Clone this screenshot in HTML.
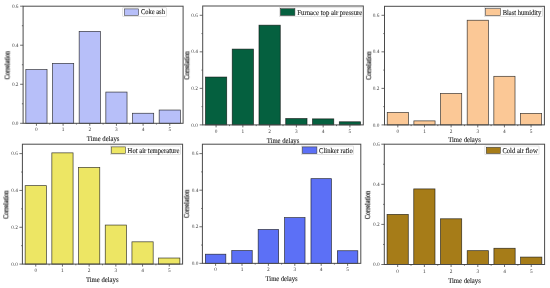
<!DOCTYPE html><html><head><meta charset="utf-8"><title>Correlation vs time delays</title><style>html,body{margin:0;padding:0;background:#fff}svg{display:block}text{text-rendering:geometricPrecision;font-family:"Liberation Serif","DejaVu Serif",serif;fill:#222;stroke:#222;stroke-width:0.12px}text.rt{stroke-width:0.25px}text.tk{fill:#3e3e3e;stroke:none}</style></head><body>
<svg width="550" height="288" viewBox="0 0 550 288">
<defs><filter id="bl" x="-10%" y="-50%" width="120%" height="200%"><feGaussianBlur stdDeviation="0.3"/></filter></defs>
<rect width="550" height="288" fill="#fff"/>
<g>
<rect x="25.83" y="69.63" width="21.20" height="53.67" fill="#b7bff9" stroke="#0c0c0c" stroke-width="0.7" stroke-opacity="0.8"/>
<rect x="52.50" y="63.38" width="21.20" height="59.92" fill="#b7bff9" stroke="#0c0c0c" stroke-width="0.7" stroke-opacity="0.8"/>
<rect x="79.17" y="31.38" width="21.20" height="91.92" fill="#b7bff9" stroke="#0c0c0c" stroke-width="0.7" stroke-opacity="0.8"/>
<rect x="105.83" y="92.07" width="21.20" height="31.23" fill="#b7bff9" stroke="#0c0c0c" stroke-width="0.7" stroke-opacity="0.8"/>
<rect x="132.50" y="113.25" width="21.20" height="10.05" fill="#b7bff9" stroke="#0c0c0c" stroke-width="0.7" stroke-opacity="0.8"/>
<rect x="159.17" y="110.03" width="21.20" height="13.27" fill="#b7bff9" stroke="#0c0c0c" stroke-width="0.7" stroke-opacity="0.8"/>
<rect x="23.10" y="6.20" width="160.00" height="117.10" fill="none" stroke="#4a4a4a" stroke-width="1"/>
<line x1="20.10" y1="123.30" x2="23.10" y2="123.30" stroke="#4a4a4a" stroke-width="0.8"/>
<text x="18.50" y="124.90" font-size="5.3" text-anchor="end" class="tk">0.0</text>
<line x1="21.90" y1="103.78" x2="23.10" y2="103.78" stroke="#4a4a4a" stroke-width="0.8"/>
<line x1="20.10" y1="84.27" x2="23.10" y2="84.27" stroke="#4a4a4a" stroke-width="0.8"/>
<text x="18.50" y="85.87" font-size="5.3" text-anchor="end" class="tk">0.2</text>
<line x1="21.90" y1="64.75" x2="23.10" y2="64.75" stroke="#4a4a4a" stroke-width="0.8"/>
<line x1="20.10" y1="45.23" x2="23.10" y2="45.23" stroke="#4a4a4a" stroke-width="0.8"/>
<text x="18.50" y="46.83" font-size="5.3" text-anchor="end" class="tk">0.4</text>
<line x1="21.90" y1="25.72" x2="23.10" y2="25.72" stroke="#4a4a4a" stroke-width="0.8"/>
<line x1="20.10" y1="6.20" x2="23.10" y2="6.20" stroke="#4a4a4a" stroke-width="0.8"/>
<text x="18.50" y="7.80" font-size="5.3" text-anchor="end" class="tk">0.6</text>
<line x1="36.43" y1="123.30" x2="36.43" y2="125.80" stroke="#4a4a4a" stroke-width="0.8"/>
<text x="36.43" y="130.90" font-size="5.3" text-anchor="middle" class="tk">0</text>
<line x1="49.77" y1="123.30" x2="49.77" y2="124.50" stroke="#4a4a4a" stroke-width="0.8"/>
<line x1="63.10" y1="123.30" x2="63.10" y2="125.80" stroke="#4a4a4a" stroke-width="0.8"/>
<text x="63.10" y="130.90" font-size="5.3" text-anchor="middle" class="tk">1</text>
<line x1="76.43" y1="123.30" x2="76.43" y2="124.50" stroke="#4a4a4a" stroke-width="0.8"/>
<line x1="89.77" y1="123.30" x2="89.77" y2="125.80" stroke="#4a4a4a" stroke-width="0.8"/>
<text x="89.77" y="130.90" font-size="5.3" text-anchor="middle" class="tk">2</text>
<line x1="103.10" y1="123.30" x2="103.10" y2="124.50" stroke="#4a4a4a" stroke-width="0.8"/>
<line x1="116.43" y1="123.30" x2="116.43" y2="125.80" stroke="#4a4a4a" stroke-width="0.8"/>
<text x="116.43" y="130.90" font-size="5.3" text-anchor="middle" class="tk">3</text>
<line x1="129.77" y1="123.30" x2="129.77" y2="124.50" stroke="#4a4a4a" stroke-width="0.8"/>
<line x1="143.10" y1="123.30" x2="143.10" y2="125.80" stroke="#4a4a4a" stroke-width="0.8"/>
<text x="143.10" y="130.90" font-size="5.3" text-anchor="middle" class="tk">4</text>
<line x1="156.43" y1="123.30" x2="156.43" y2="124.50" stroke="#4a4a4a" stroke-width="0.8"/>
<line x1="169.77" y1="123.30" x2="169.77" y2="125.80" stroke="#4a4a4a" stroke-width="0.8"/>
<text x="169.77" y="130.90" font-size="5.3" text-anchor="middle" class="tk">5</text>
<text x="103.10" y="140.60" font-size="7.3" text-anchor="middle" textLength="32.6" lengthAdjust="spacingAndGlyphs">Time delays</text>
<text transform="translate(9.50,65.25) rotate(-90)" class="rt" filter="url(#bl)" font-size="7.2" text-anchor="middle" textLength="28.3" lengthAdjust="spacingAndGlyphs">Correlation</text>
<rect x="122.80" y="7.80" width="43.60" height="8.50" fill="#fff" stroke="#c8c8c8" stroke-width="0.5"/>
<rect x="124.40" y="8.90" width="14.30" height="6.40" fill="#b7bff9" stroke="#383838" stroke-width="0.55"/>
<text x="140.90" y="14.30" font-size="7.4" textLength="24.0" lengthAdjust="spacingAndGlyphs">Coke ash</text>
</g>
<g>
<rect x="205.44" y="77.04" width="21.28" height="47.86" fill="#05603f" stroke="#0c0c0c" stroke-width="0.7" stroke-opacity="0.8"/>
<rect x="232.21" y="49.09" width="21.28" height="75.81" fill="#05603f" stroke="#0c0c0c" stroke-width="0.7" stroke-opacity="0.8"/>
<rect x="258.98" y="25.16" width="21.28" height="99.74" fill="#05603f" stroke="#0c0c0c" stroke-width="0.7" stroke-opacity="0.8"/>
<rect x="285.74" y="118.51" width="21.28" height="6.39" fill="#05603f" stroke="#0c0c0c" stroke-width="0.7" stroke-opacity="0.8"/>
<rect x="312.51" y="118.87" width="21.28" height="6.03" fill="#05603f" stroke="#0c0c0c" stroke-width="0.7" stroke-opacity="0.8"/>
<rect x="339.28" y="121.79" width="21.28" height="3.11" fill="#05603f" stroke="#0c0c0c" stroke-width="0.7" stroke-opacity="0.8"/>
<rect x="202.70" y="6.00" width="160.60" height="118.90" fill="none" stroke="#4a4a4a" stroke-width="1"/>
<line x1="199.70" y1="124.90" x2="202.70" y2="124.90" stroke="#4a4a4a" stroke-width="0.8"/>
<text x="197.90" y="126.50" font-size="5.3" text-anchor="end" class="tk">0.0</text>
<line x1="201.50" y1="106.63" x2="202.70" y2="106.63" stroke="#4a4a4a" stroke-width="0.8"/>
<line x1="199.70" y1="88.37" x2="202.70" y2="88.37" stroke="#4a4a4a" stroke-width="0.8"/>
<text x="197.90" y="89.97" font-size="5.3" text-anchor="end" class="tk">0.2</text>
<line x1="201.50" y1="70.10" x2="202.70" y2="70.10" stroke="#4a4a4a" stroke-width="0.8"/>
<line x1="199.70" y1="51.83" x2="202.70" y2="51.83" stroke="#4a4a4a" stroke-width="0.8"/>
<text x="197.90" y="53.43" font-size="5.3" text-anchor="end" class="tk">0.4</text>
<line x1="201.50" y1="33.57" x2="202.70" y2="33.57" stroke="#4a4a4a" stroke-width="0.8"/>
<line x1="199.70" y1="15.30" x2="202.70" y2="15.30" stroke="#4a4a4a" stroke-width="0.8"/>
<text x="197.90" y="16.90" font-size="5.3" text-anchor="end" class="tk">0.6</text>
<line x1="216.08" y1="124.90" x2="216.08" y2="127.40" stroke="#4a4a4a" stroke-width="0.8"/>
<text x="216.08" y="132.50" font-size="5.3" text-anchor="middle" class="tk">0</text>
<line x1="229.47" y1="124.90" x2="229.47" y2="126.10" stroke="#4a4a4a" stroke-width="0.8"/>
<line x1="242.85" y1="124.90" x2="242.85" y2="127.40" stroke="#4a4a4a" stroke-width="0.8"/>
<text x="242.85" y="132.50" font-size="5.3" text-anchor="middle" class="tk">1</text>
<line x1="256.23" y1="124.90" x2="256.23" y2="126.10" stroke="#4a4a4a" stroke-width="0.8"/>
<line x1="269.62" y1="124.90" x2="269.62" y2="127.40" stroke="#4a4a4a" stroke-width="0.8"/>
<text x="269.62" y="132.50" font-size="5.3" text-anchor="middle" class="tk">2</text>
<line x1="283.00" y1="124.90" x2="283.00" y2="126.10" stroke="#4a4a4a" stroke-width="0.8"/>
<line x1="296.38" y1="124.90" x2="296.38" y2="127.40" stroke="#4a4a4a" stroke-width="0.8"/>
<text x="296.38" y="132.50" font-size="5.3" text-anchor="middle" class="tk">3</text>
<line x1="309.77" y1="124.90" x2="309.77" y2="126.10" stroke="#4a4a4a" stroke-width="0.8"/>
<line x1="323.15" y1="124.90" x2="323.15" y2="127.40" stroke="#4a4a4a" stroke-width="0.8"/>
<text x="323.15" y="132.50" font-size="5.3" text-anchor="middle" class="tk">4</text>
<line x1="336.53" y1="124.90" x2="336.53" y2="126.10" stroke="#4a4a4a" stroke-width="0.8"/>
<line x1="349.92" y1="124.90" x2="349.92" y2="127.40" stroke="#4a4a4a" stroke-width="0.8"/>
<text x="349.92" y="132.50" font-size="5.3" text-anchor="middle" class="tk">5</text>
<text x="283.00" y="142.60" font-size="7.3" text-anchor="middle" textLength="32.6" lengthAdjust="spacingAndGlyphs">Time delays</text>
<text transform="translate(189.10,65.45) rotate(-90)" class="rt" filter="url(#bl)" font-size="7.2" text-anchor="middle" textLength="28.3" lengthAdjust="spacingAndGlyphs">Correlation</text>
<rect x="279.50" y="7.80" width="82.80" height="8.50" fill="#fff" stroke="#c8c8c8" stroke-width="0.5"/>
<rect x="280.40" y="8.70" width="14.50" height="6.80" fill="#05603f" stroke="#383838" stroke-width="0.55"/>
<text x="297.30" y="14.50" font-size="7.4" textLength="65.0" lengthAdjust="spacingAndGlyphs">Furnace top air pressure</text>
</g>
<g>
<rect x="387.23" y="112.48" width="21.19" height="12.42" fill="#fbc896" stroke="#0c0c0c" stroke-width="0.7" stroke-opacity="0.8"/>
<rect x="413.88" y="120.88" width="21.19" height="4.02" fill="#fbc896" stroke="#0c0c0c" stroke-width="0.7" stroke-opacity="0.8"/>
<rect x="440.53" y="93.48" width="21.19" height="31.42" fill="#fbc896" stroke="#0c0c0c" stroke-width="0.7" stroke-opacity="0.8"/>
<rect x="467.18" y="20.23" width="21.19" height="104.67" fill="#fbc896" stroke="#0c0c0c" stroke-width="0.7" stroke-opacity="0.8"/>
<rect x="493.83" y="76.31" width="21.19" height="48.59" fill="#fbc896" stroke="#0c0c0c" stroke-width="0.7" stroke-opacity="0.8"/>
<rect x="520.48" y="113.39" width="21.19" height="11.51" fill="#fbc896" stroke="#0c0c0c" stroke-width="0.7" stroke-opacity="0.8"/>
<rect x="384.50" y="6.30" width="159.90" height="118.60" fill="none" stroke="#4a4a4a" stroke-width="1"/>
<line x1="381.50" y1="124.90" x2="384.50" y2="124.90" stroke="#4a4a4a" stroke-width="0.8"/>
<text x="379.30" y="126.50" font-size="5.3" text-anchor="end" class="tk">0.0</text>
<line x1="383.30" y1="106.63" x2="384.50" y2="106.63" stroke="#4a4a4a" stroke-width="0.8"/>
<line x1="381.50" y1="88.37" x2="384.50" y2="88.37" stroke="#4a4a4a" stroke-width="0.8"/>
<text x="379.30" y="89.97" font-size="5.3" text-anchor="end" class="tk">0.2</text>
<line x1="383.30" y1="70.10" x2="384.50" y2="70.10" stroke="#4a4a4a" stroke-width="0.8"/>
<line x1="381.50" y1="51.83" x2="384.50" y2="51.83" stroke="#4a4a4a" stroke-width="0.8"/>
<text x="379.30" y="53.43" font-size="5.3" text-anchor="end" class="tk">0.4</text>
<line x1="383.30" y1="33.57" x2="384.50" y2="33.57" stroke="#4a4a4a" stroke-width="0.8"/>
<line x1="381.50" y1="15.30" x2="384.50" y2="15.30" stroke="#4a4a4a" stroke-width="0.8"/>
<text x="379.30" y="16.90" font-size="5.3" text-anchor="end" class="tk">0.6</text>
<line x1="397.82" y1="124.90" x2="397.82" y2="127.40" stroke="#4a4a4a" stroke-width="0.8"/>
<text x="397.82" y="133.20" font-size="5.3" text-anchor="middle" class="tk">0</text>
<line x1="411.15" y1="124.90" x2="411.15" y2="126.10" stroke="#4a4a4a" stroke-width="0.8"/>
<line x1="424.48" y1="124.90" x2="424.48" y2="127.40" stroke="#4a4a4a" stroke-width="0.8"/>
<text x="424.48" y="133.20" font-size="5.3" text-anchor="middle" class="tk">1</text>
<line x1="437.80" y1="124.90" x2="437.80" y2="126.10" stroke="#4a4a4a" stroke-width="0.8"/>
<line x1="451.12" y1="124.90" x2="451.12" y2="127.40" stroke="#4a4a4a" stroke-width="0.8"/>
<text x="451.12" y="133.20" font-size="5.3" text-anchor="middle" class="tk">2</text>
<line x1="464.45" y1="124.90" x2="464.45" y2="126.10" stroke="#4a4a4a" stroke-width="0.8"/>
<line x1="477.77" y1="124.90" x2="477.77" y2="127.40" stroke="#4a4a4a" stroke-width="0.8"/>
<text x="477.77" y="133.20" font-size="5.3" text-anchor="middle" class="tk">3</text>
<line x1="491.10" y1="124.90" x2="491.10" y2="126.10" stroke="#4a4a4a" stroke-width="0.8"/>
<line x1="504.42" y1="124.90" x2="504.42" y2="127.40" stroke="#4a4a4a" stroke-width="0.8"/>
<text x="504.42" y="133.20" font-size="5.3" text-anchor="middle" class="tk">4</text>
<line x1="517.75" y1="124.90" x2="517.75" y2="126.10" stroke="#4a4a4a" stroke-width="0.8"/>
<line x1="531.07" y1="124.90" x2="531.07" y2="127.40" stroke="#4a4a4a" stroke-width="0.8"/>
<text x="531.07" y="133.20" font-size="5.3" text-anchor="middle" class="tk">5</text>
<text x="464.45" y="142.40" font-size="7.3" text-anchor="middle" textLength="32.6" lengthAdjust="spacingAndGlyphs">Time delays</text>
<text transform="translate(370.90,65.60) rotate(-90)" class="rt" filter="url(#bl)" font-size="7.2" text-anchor="middle" textLength="28.3" lengthAdjust="spacingAndGlyphs">Correlation</text>
<rect x="484.60" y="7.80" width="57.80" height="8.50" fill="#fff" stroke="#c8c8c8" stroke-width="0.5"/>
<rect x="485.50" y="8.70" width="14.90" height="6.80" fill="#fbc896" stroke="#383838" stroke-width="0.55"/>
<text x="502.70" y="14.50" font-size="7.4" textLength="38.5" lengthAdjust="spacingAndGlyphs">Blast humidity</text>
</g>
<g>
<rect x="25.14" y="185.65" width="21.23" height="78.46" fill="#ede664" stroke="#0c0c0c" stroke-width="0.7" stroke-opacity="0.8"/>
<rect x="51.84" y="152.86" width="21.23" height="111.24" fill="#ede664" stroke="#0c0c0c" stroke-width="0.7" stroke-opacity="0.8"/>
<rect x="78.54" y="167.41" width="21.23" height="96.69" fill="#ede664" stroke="#0c0c0c" stroke-width="0.7" stroke-opacity="0.8"/>
<rect x="105.24" y="225.06" width="21.23" height="39.04" fill="#ede664" stroke="#0c0c0c" stroke-width="0.7" stroke-opacity="0.8"/>
<rect x="131.94" y="241.82" width="21.23" height="22.28" fill="#ede664" stroke="#0c0c0c" stroke-width="0.7" stroke-opacity="0.8"/>
<rect x="158.64" y="258.02" width="21.23" height="6.08" fill="#ede664" stroke="#0c0c0c" stroke-width="0.7" stroke-opacity="0.8"/>
<rect x="22.40" y="144.20" width="160.20" height="119.90" fill="none" stroke="#4a4a4a" stroke-width="1"/>
<line x1="19.40" y1="264.10" x2="22.40" y2="264.10" stroke="#4a4a4a" stroke-width="0.8"/>
<text x="17.80" y="265.70" font-size="5.3" text-anchor="end" class="tk">0.0</text>
<line x1="21.20" y1="245.68" x2="22.40" y2="245.68" stroke="#4a4a4a" stroke-width="0.8"/>
<line x1="19.40" y1="227.27" x2="22.40" y2="227.27" stroke="#4a4a4a" stroke-width="0.8"/>
<text x="17.80" y="228.87" font-size="5.3" text-anchor="end" class="tk">0.2</text>
<line x1="21.20" y1="208.85" x2="22.40" y2="208.85" stroke="#4a4a4a" stroke-width="0.8"/>
<line x1="19.40" y1="190.43" x2="22.40" y2="190.43" stroke="#4a4a4a" stroke-width="0.8"/>
<text x="17.80" y="192.03" font-size="5.3" text-anchor="end" class="tk">0.4</text>
<line x1="21.20" y1="172.02" x2="22.40" y2="172.02" stroke="#4a4a4a" stroke-width="0.8"/>
<line x1="19.40" y1="153.60" x2="22.40" y2="153.60" stroke="#4a4a4a" stroke-width="0.8"/>
<text x="17.80" y="155.20" font-size="5.3" text-anchor="end" class="tk">0.6</text>
<line x1="35.75" y1="264.10" x2="35.75" y2="266.60" stroke="#4a4a4a" stroke-width="0.8"/>
<text x="35.75" y="272.30" font-size="5.3" text-anchor="middle" class="tk">0</text>
<line x1="49.10" y1="264.10" x2="49.10" y2="265.30" stroke="#4a4a4a" stroke-width="0.8"/>
<line x1="62.45" y1="264.10" x2="62.45" y2="266.60" stroke="#4a4a4a" stroke-width="0.8"/>
<text x="62.45" y="272.30" font-size="5.3" text-anchor="middle" class="tk">1</text>
<line x1="75.80" y1="264.10" x2="75.80" y2="265.30" stroke="#4a4a4a" stroke-width="0.8"/>
<line x1="89.15" y1="264.10" x2="89.15" y2="266.60" stroke="#4a4a4a" stroke-width="0.8"/>
<text x="89.15" y="272.30" font-size="5.3" text-anchor="middle" class="tk">2</text>
<line x1="102.50" y1="264.10" x2="102.50" y2="265.30" stroke="#4a4a4a" stroke-width="0.8"/>
<line x1="115.85" y1="264.10" x2="115.85" y2="266.60" stroke="#4a4a4a" stroke-width="0.8"/>
<text x="115.85" y="272.30" font-size="5.3" text-anchor="middle" class="tk">3</text>
<line x1="129.20" y1="264.10" x2="129.20" y2="265.30" stroke="#4a4a4a" stroke-width="0.8"/>
<line x1="142.55" y1="264.10" x2="142.55" y2="266.60" stroke="#4a4a4a" stroke-width="0.8"/>
<text x="142.55" y="272.30" font-size="5.3" text-anchor="middle" class="tk">4</text>
<line x1="155.90" y1="264.10" x2="155.90" y2="265.30" stroke="#4a4a4a" stroke-width="0.8"/>
<line x1="169.25" y1="264.10" x2="169.25" y2="266.60" stroke="#4a4a4a" stroke-width="0.8"/>
<text x="169.25" y="272.30" font-size="5.3" text-anchor="middle" class="tk">5</text>
<text x="102.20" y="282.00" font-size="7.3" text-anchor="middle" textLength="32.6" lengthAdjust="spacingAndGlyphs">Time delays</text>
<text transform="translate(8.20,204.65) rotate(-90)" class="rt" filter="url(#bl)" font-size="7.2" text-anchor="middle" textLength="28.3" lengthAdjust="spacingAndGlyphs">Correlation</text>
<rect x="110.40" y="146.00" width="70.20" height="8.50" fill="#fff" stroke="#c8c8c8" stroke-width="0.5"/>
<rect x="111.30" y="146.90" width="14.20" height="6.70" fill="#ede664" stroke="#383838" stroke-width="0.55"/>
<text x="127.60" y="152.60" font-size="7.4" textLength="51.9" lengthAdjust="spacingAndGlyphs">Hot air temperature</text>
</g>
<g>
<rect x="205.37" y="254.20" width="20.46" height="9.15" fill="#5c70f6" stroke="#0c0c0c" stroke-width="0.7" stroke-opacity="0.8"/>
<rect x="231.77" y="250.55" width="20.46" height="12.80" fill="#5c70f6" stroke="#0c0c0c" stroke-width="0.7" stroke-opacity="0.8"/>
<rect x="258.17" y="229.51" width="20.46" height="33.84" fill="#5c70f6" stroke="#0c0c0c" stroke-width="0.7" stroke-opacity="0.8"/>
<rect x="284.57" y="217.62" width="20.46" height="45.73" fill="#5c70f6" stroke="#0c0c0c" stroke-width="0.7" stroke-opacity="0.8"/>
<rect x="310.97" y="178.66" width="20.46" height="84.69" fill="#5c70f6" stroke="#0c0c0c" stroke-width="0.7" stroke-opacity="0.8"/>
<rect x="337.37" y="250.73" width="20.46" height="12.62" fill="#5c70f6" stroke="#0c0c0c" stroke-width="0.7" stroke-opacity="0.8"/>
<rect x="202.40" y="144.20" width="158.40" height="119.15" fill="none" stroke="#4a4a4a" stroke-width="1"/>
<line x1="199.40" y1="263.35" x2="202.40" y2="263.35" stroke="#4a4a4a" stroke-width="0.8"/>
<text x="198.30" y="264.95" font-size="5.3" text-anchor="end" class="tk">0.0</text>
<line x1="201.20" y1="245.06" x2="202.40" y2="245.06" stroke="#4a4a4a" stroke-width="0.8"/>
<line x1="199.40" y1="226.77" x2="202.40" y2="226.77" stroke="#4a4a4a" stroke-width="0.8"/>
<text x="198.30" y="228.37" font-size="5.3" text-anchor="end" class="tk">0.2</text>
<line x1="201.20" y1="208.48" x2="202.40" y2="208.48" stroke="#4a4a4a" stroke-width="0.8"/>
<line x1="199.40" y1="190.18" x2="202.40" y2="190.18" stroke="#4a4a4a" stroke-width="0.8"/>
<text x="198.30" y="191.78" font-size="5.3" text-anchor="end" class="tk">0.4</text>
<line x1="201.20" y1="171.89" x2="202.40" y2="171.89" stroke="#4a4a4a" stroke-width="0.8"/>
<line x1="199.40" y1="153.60" x2="202.40" y2="153.60" stroke="#4a4a4a" stroke-width="0.8"/>
<text x="198.30" y="155.20" font-size="5.3" text-anchor="end" class="tk">0.6</text>
<line x1="215.60" y1="263.35" x2="215.60" y2="265.85" stroke="#4a4a4a" stroke-width="0.8"/>
<text x="215.60" y="270.95" font-size="5.3" text-anchor="middle" class="tk">0</text>
<line x1="228.80" y1="263.35" x2="228.80" y2="264.55" stroke="#4a4a4a" stroke-width="0.8"/>
<line x1="242.00" y1="263.35" x2="242.00" y2="265.85" stroke="#4a4a4a" stroke-width="0.8"/>
<text x="242.00" y="270.95" font-size="5.3" text-anchor="middle" class="tk">1</text>
<line x1="255.20" y1="263.35" x2="255.20" y2="264.55" stroke="#4a4a4a" stroke-width="0.8"/>
<line x1="268.40" y1="263.35" x2="268.40" y2="265.85" stroke="#4a4a4a" stroke-width="0.8"/>
<text x="268.40" y="270.95" font-size="5.3" text-anchor="middle" class="tk">2</text>
<line x1="281.60" y1="263.35" x2="281.60" y2="264.55" stroke="#4a4a4a" stroke-width="0.8"/>
<line x1="294.80" y1="263.35" x2="294.80" y2="265.85" stroke="#4a4a4a" stroke-width="0.8"/>
<text x="294.80" y="270.95" font-size="5.3" text-anchor="middle" class="tk">3</text>
<line x1="308.00" y1="263.35" x2="308.00" y2="264.55" stroke="#4a4a4a" stroke-width="0.8"/>
<line x1="321.20" y1="263.35" x2="321.20" y2="265.85" stroke="#4a4a4a" stroke-width="0.8"/>
<text x="321.20" y="270.95" font-size="5.3" text-anchor="middle" class="tk">4</text>
<line x1="334.40" y1="263.35" x2="334.40" y2="264.55" stroke="#4a4a4a" stroke-width="0.8"/>
<line x1="347.60" y1="263.35" x2="347.60" y2="265.85" stroke="#4a4a4a" stroke-width="0.8"/>
<text x="347.60" y="270.95" font-size="5.3" text-anchor="middle" class="tk">5</text>
<text x="281.60" y="281.20" font-size="7.3" text-anchor="middle" textLength="32.0" lengthAdjust="spacingAndGlyphs">Time delays</text>
<text transform="translate(188.80,203.78) rotate(-90)" class="rt" filter="url(#bl)" font-size="7.2" text-anchor="middle" textLength="28.3" lengthAdjust="spacingAndGlyphs">Correlation</text>
<rect x="301.50" y="146.00" width="52.20" height="8.50" fill="#fff" stroke="#c8c8c8" stroke-width="0.5"/>
<rect x="302.40" y="146.90" width="14.50" height="6.70" fill="#5c70f6" stroke="#383838" stroke-width="0.55"/>
<text x="319.10" y="152.60" font-size="7.4" textLength="33.6" lengthAdjust="spacingAndGlyphs">Clinker ratio</text>
</g>
<g>
<rect x="387.04" y="214.38" width="21.24" height="50.12" fill="#a67c18" stroke="#0c0c0c" stroke-width="0.7" stroke-opacity="0.8"/>
<rect x="413.76" y="188.91" width="21.24" height="75.59" fill="#a67c18" stroke="#0c0c0c" stroke-width="0.7" stroke-opacity="0.8"/>
<rect x="440.47" y="218.79" width="21.24" height="45.71" fill="#a67c18" stroke="#0c0c0c" stroke-width="0.7" stroke-opacity="0.8"/>
<rect x="467.19" y="250.67" width="21.24" height="13.83" fill="#a67c18" stroke="#0c0c0c" stroke-width="0.7" stroke-opacity="0.8"/>
<rect x="493.91" y="248.26" width="21.24" height="16.24" fill="#a67c18" stroke="#0c0c0c" stroke-width="0.7" stroke-opacity="0.8"/>
<rect x="520.62" y="257.08" width="21.24" height="7.42" fill="#a67c18" stroke="#0c0c0c" stroke-width="0.7" stroke-opacity="0.8"/>
<rect x="384.30" y="144.20" width="160.30" height="120.30" fill="none" stroke="#4a4a4a" stroke-width="1"/>
<line x1="381.30" y1="264.50" x2="384.30" y2="264.50" stroke="#4a4a4a" stroke-width="0.8"/>
<text x="379.70" y="266.10" font-size="5.3" text-anchor="end" class="tk">0.0</text>
<line x1="383.10" y1="244.45" x2="384.30" y2="244.45" stroke="#4a4a4a" stroke-width="0.8"/>
<line x1="381.30" y1="224.40" x2="384.30" y2="224.40" stroke="#4a4a4a" stroke-width="0.8"/>
<text x="379.70" y="226.00" font-size="5.3" text-anchor="end" class="tk">0.2</text>
<line x1="383.10" y1="204.35" x2="384.30" y2="204.35" stroke="#4a4a4a" stroke-width="0.8"/>
<line x1="381.30" y1="184.30" x2="384.30" y2="184.30" stroke="#4a4a4a" stroke-width="0.8"/>
<text x="379.70" y="185.90" font-size="5.3" text-anchor="end" class="tk">0.4</text>
<line x1="383.10" y1="164.25" x2="384.30" y2="164.25" stroke="#4a4a4a" stroke-width="0.8"/>
<line x1="381.30" y1="144.20" x2="384.30" y2="144.20" stroke="#4a4a4a" stroke-width="0.8"/>
<text x="379.70" y="145.80" font-size="5.3" text-anchor="end" class="tk">0.6</text>
<line x1="397.66" y1="264.50" x2="397.66" y2="267.00" stroke="#4a4a4a" stroke-width="0.8"/>
<text x="397.66" y="272.90" font-size="5.3" text-anchor="middle" class="tk">0</text>
<line x1="411.02" y1="264.50" x2="411.02" y2="265.70" stroke="#4a4a4a" stroke-width="0.8"/>
<line x1="424.38" y1="264.50" x2="424.38" y2="267.00" stroke="#4a4a4a" stroke-width="0.8"/>
<text x="424.38" y="272.90" font-size="5.3" text-anchor="middle" class="tk">1</text>
<line x1="437.73" y1="264.50" x2="437.73" y2="265.70" stroke="#4a4a4a" stroke-width="0.8"/>
<line x1="451.09" y1="264.50" x2="451.09" y2="267.00" stroke="#4a4a4a" stroke-width="0.8"/>
<text x="451.09" y="272.90" font-size="5.3" text-anchor="middle" class="tk">2</text>
<line x1="464.45" y1="264.50" x2="464.45" y2="265.70" stroke="#4a4a4a" stroke-width="0.8"/>
<line x1="477.81" y1="264.50" x2="477.81" y2="267.00" stroke="#4a4a4a" stroke-width="0.8"/>
<text x="477.81" y="272.90" font-size="5.3" text-anchor="middle" class="tk">3</text>
<line x1="491.17" y1="264.50" x2="491.17" y2="265.70" stroke="#4a4a4a" stroke-width="0.8"/>
<line x1="504.53" y1="264.50" x2="504.53" y2="267.00" stroke="#4a4a4a" stroke-width="0.8"/>
<text x="504.53" y="272.90" font-size="5.3" text-anchor="middle" class="tk">4</text>
<line x1="517.88" y1="264.50" x2="517.88" y2="265.70" stroke="#4a4a4a" stroke-width="0.8"/>
<line x1="531.24" y1="264.50" x2="531.24" y2="267.00" stroke="#4a4a4a" stroke-width="0.8"/>
<text x="531.24" y="272.90" font-size="5.3" text-anchor="middle" class="tk">5</text>
<text x="464.45" y="282.90" font-size="7.3" text-anchor="middle" textLength="32.6" lengthAdjust="spacingAndGlyphs">Time delays</text>
<text transform="translate(369.80,204.95) rotate(-90)" class="rt" filter="url(#bl)" font-size="7.2" text-anchor="middle" textLength="28.3" lengthAdjust="spacingAndGlyphs">Correlation</text>
<rect x="484.90" y="146.00" width="54.10" height="8.50" fill="#fff" stroke="#c8c8c8" stroke-width="0.5"/>
<rect x="486.30" y="147.30" width="14.10" height="6.20" fill="#a67c18" stroke="#383838" stroke-width="0.55"/>
<text x="502.40" y="152.50" font-size="7.4" textLength="35.3" lengthAdjust="spacingAndGlyphs">Cold air flow</text>
</g>
</svg></body></html>
